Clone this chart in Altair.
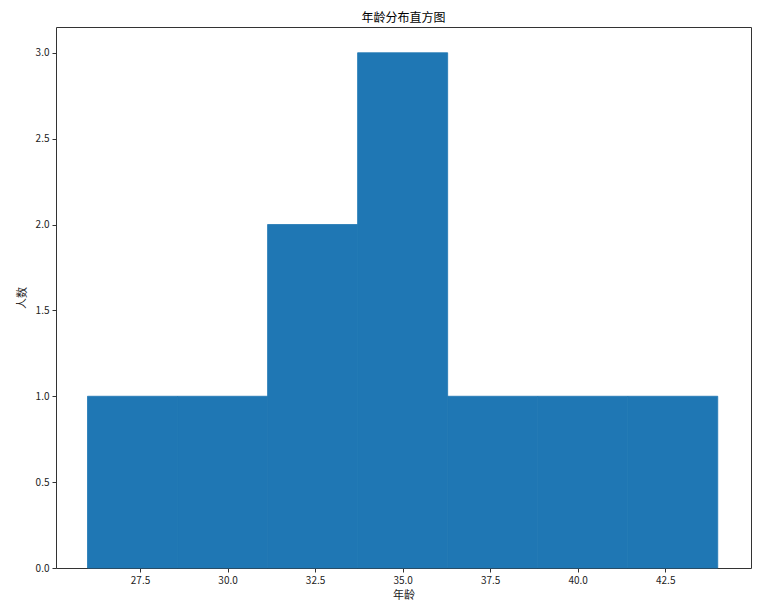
import altair as alt
import pandas as pd

# Histogram bins (edges) and counts
bin_starts = [26.0, 28.571, 31.143, 33.714, 36.286, 38.857, 41.429]
bin_ends = [28.571, 31.143, 33.714, 36.286, 38.857, 41.429, 44.0]
counts = [1, 1, 2, 3, 1, 1, 1]

x_ticks = [27.5, 30.0, 32.5, 35.0, 37.5, 40.0, 42.5]
y_ticks = [0.0, 0.5, 1.0, 1.5, 2.0, 2.5, 3.0]

df = pd.DataFrame({"start": bin_starts, "end": bin_ends, "count": counts})

FONT = "Noto Sans CJK SC"

chart = alt.Chart(df).mark_rect(color="#1f77b4", stroke="#1f77b4", strokeWidth=0.8).encode(
    x=alt.X("start:Q",
            scale=alt.Scale(domain=[25.1, 44.95], nice=False, zero=False),
            axis=alt.Axis(title="年龄", values=x_ticks, format=".1f")),
    x2="end:Q",
    y=alt.Y("count:Q",
            scale=alt.Scale(domain=[0, 3.15], nice=False),
            axis=alt.Axis(title="人数", values=y_ticks, format=".1f")),
    y2=alt.datum(0),
).properties(
    width=695,
    height=541,
    title=alt.TitleParams("年龄分布直方图", fontSize=12, fontWeight="normal",
                          font=FONT, color="black", offset=2),
    autosize=alt.AutoSizeParams(type="none"),
    padding={"left": 48, "top": 19, "right": 2, "bottom": 37},
).configure_view(
    stroke="#333333", strokeWidth=1
).configure_axis(
    domain=False, grid=False, tickColor="#333333", tickSize=4, tickWidth=1,
    labelFont=FONT, labelFontSize=10, labelColor="#222222", labelPadding=3,
    titleFont=FONT, titleFontSize=11, titleFontWeight="normal", titleColor="#222222",
).configure_axisY(
    titlePadding=8
).configure_axisX(
    titlePadding=4
)

chart.save("out.html", embed_options={"renderer": "svg", "actions": False})
